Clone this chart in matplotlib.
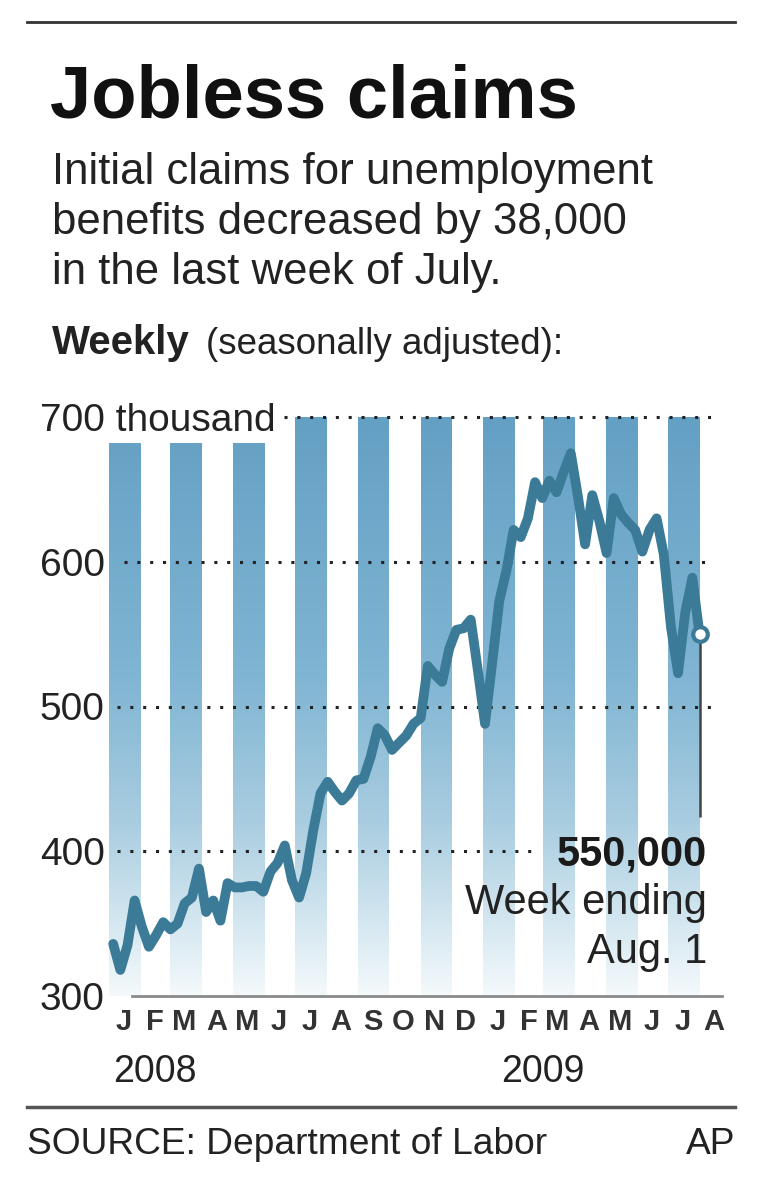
import numpy as np
import pandas as pd
import matplotlib
matplotlib.use("Agg")
import matplotlib.pyplot as plt
import matplotlib.dates as mdates
from matplotlib.colors import LinearSegmentedColormap
from matplotlib.lines import Line2D

plt.rcParams['font.family'] = ['Liberation Sans', 'DejaVu Sans']

# weekly initial claims, thousands, seasonally adjusted (week ending Jan 5 2008 .. Aug 1 2009)
claims = [336, 318, 335, 366, 348, 334, 342, 351, 346, 350,
          364, 368, 388, 358, 366, 352, 378, 375, 375, 376,
          376, 372, 386, 392, 404, 380, 368, 385, 415, 440,
          448, 441, 435, 440, 449, 450, 465, 485, 480, 470,
          475, 480, 488, 492, 528, 522, 517, 540, 553, 554,
          560, 525, 488, 530, 573, 594, 622, 617, 630, 655,
          644, 656, 648, 662, 675, 645, 612, 646, 628, 606,
          644, 633, 627, 622, 607, 622, 630, 605, 555, 523,
          565, 589, 550]
weeks = pd.date_range("2008-01-05", periods=len(claims), freq="7D")

month_letters = ["J", "F", "M", "A", "M", "J", "J", "A", "S", "O", "N", "D",
                 "J", "F", "M", "A", "M", "J", "J", "A"]
months = pd.date_range("2008-01-01", periods=len(month_letters), freq="MS")
stripe_months = pd.date_range("2008-01-01", "2009-07-01", freq="2MS")
stripe_top = [682, 682, 682, 700, 700, 700, 700, 700, 700, 700]
yticks = [300, 400, 500, 600, 700]
ytick_labels = ["300", "400", "500", "600", "700 thousand"]

W, H = 760, 1189
fig = plt.figure(figsize=(W / 100, H / 100), dpi=100)


def fx(x):
    return x / W


def fy(y):
    return 1 - y / H


ax = fig.add_axes([fx(105), fy(996), (722 - 105) / W, (996 - 417) / H])

line_color = "#3b7b97"
stripe_cmap = LinearSegmentedColormap.from_list(
    "stripe", [(0.0, "#f4f9fb"), (0.12, "#d6e8f1"), (0.3, "#a9cde0"),
               (0.55, "#80b5d3"), (1.0, "#64a0c4")])
grad = np.linspace(0, 1, 256).reshape(-1, 1)

# alternating month stripes with vertical gradient
for start, top in zip(stripe_months, stripe_top):
    end = start + pd.offsets.MonthBegin(1)
    x0, x1 = mdates.date2num(start), mdates.date2num(end)
    bar = ax.bar(x0, top - 300, width=x1 - x0, bottom=300, align="edge",
                 color="none", linewidth=0)[0]
    im = ax.imshow(grad, cmap=stripe_cmap, origin="lower", aspect="auto",
                   extent=[x0, x1, 300, 700], zorder=1)
    im.set_clip_path(bar)

# dotted gridlines
grid_span = {700: (0.29, 0.985), 600: (0.03, 0.985), 500: (0.02, 0.985), 400: (0.02, 0.70)}
for lev, (a, b) in grid_span.items():
    ax.axhline(lev, xmin=a, xmax=b, color="#222222", lw=2.2,
               linestyle=(0, (1, 3.2)), zorder=2, clip_on=False)

# baseline
ax.axhline(300, xmin=0.044, xmax=1.0, color="#8a8a8a", lw=2, zorder=2, clip_on=False)

# claims line
ax.plot(weeks, claims, color=line_color, lw=7, solid_joinstyle="round",
        solid_capstyle="round", zorder=4)

# leader to last value
last_date, last_val = weeks[-1], claims[-1]
ax.vlines(last_date, 424, last_val, color="#444444", lw=1.8, zorder=3)
ax.plot(last_date, last_val, "o", ms=10.5, mfc="white", mec=line_color, mew=3, zorder=5)

ax.set_ylim(300, 700)
ax.set_xlim(mdates.date2num(pd.Timestamp("2007-12-28")),
            mdates.date2num(pd.Timestamp("2009-08-23")))
ax.set_yticks(yticks)
ax.set_yticklabels(ytick_labels, fontsize=28, color="#222222")
for lbl in ax.get_yticklabels():
    lbl.set_horizontalalignment("left")
ax.tick_params(axis="y", length=0, pad=47)

mid = [m + pd.Timedelta(days=14) for m in months]
ax.set_xticks(mdates.date2num(mid))
ax.set_xticklabels(month_letters, fontsize=21, fontweight="bold", color="#333333")
ax.tick_params(axis="x", length=0, pad=9)
for s in ax.spines.values():
    s.set_visible(False)
ax.patch.set_alpha(0)

# year labels
ax.text(mdates.date2num(pd.Timestamp("2008-01-05")), -0.148, "2008",
        transform=ax.get_xaxis_transform(), fontsize=27, color="#222222",
        ha="left", va="baseline")
ax.text(mdates.date2num(pd.Timestamp("2009-03-01")), -0.148, "2009",
        transform=ax.get_xaxis_transform(), fontsize=27, color="#222222",
        ha="center", va="baseline")

# annotation
fig.text(fx(707), fy(866), f"{last_val * 1000:,}", fontsize=30, fontweight="bold",
         color="#1a1a1a", ha="right", va="baseline")
fig.text(fx(707), fy(914), "Week ending", fontsize=30, color="#222222",
         ha="right", va="baseline")
fig.text(fx(707), fy(963), "Aug. 1", fontsize=30, color="#222222",
         ha="right", va="baseline")

# header
fig.add_artist(Line2D([fx(27), fx(735)], [fy(22), fy(22)], color="#333333", lw=2))
fig.text(fx(50), fy(118), "Jobless claims", fontsize=53.5, fontweight="bold",
         color="#111111", va="baseline")
subtitle = ["Initial claims for unemployment",
            "benefits decreased by 38,000",
            "in the last week of July."]
for i, s in enumerate(subtitle):
    fig.text(fx(52), fy(184 + 50 * i), s, fontsize=31.5, color="#222222", va="baseline")
fig.text(fx(52), fy(354), "Weekly", fontsize=29, fontweight="bold",
         color="#222222", va="baseline")
fig.text(fx(206), fy(354), "(seasonally adjusted):", fontsize=26.5,
         color="#222222", va="baseline")

# footer
fig.add_artist(Line2D([fx(27), fx(735)], [fy(1107), fy(1107)], color="#555555", lw=2.5))
fig.text(fx(27), fy(1154), "SOURCE: Department of Labor", fontsize=26.7,
         color="#222222", va="baseline")
fig.text(fx(735), fy(1154), "AP", fontsize=26.7, color="#222222",
         ha="right", va="baseline")

fig.savefig("out.png", dpi=100)
